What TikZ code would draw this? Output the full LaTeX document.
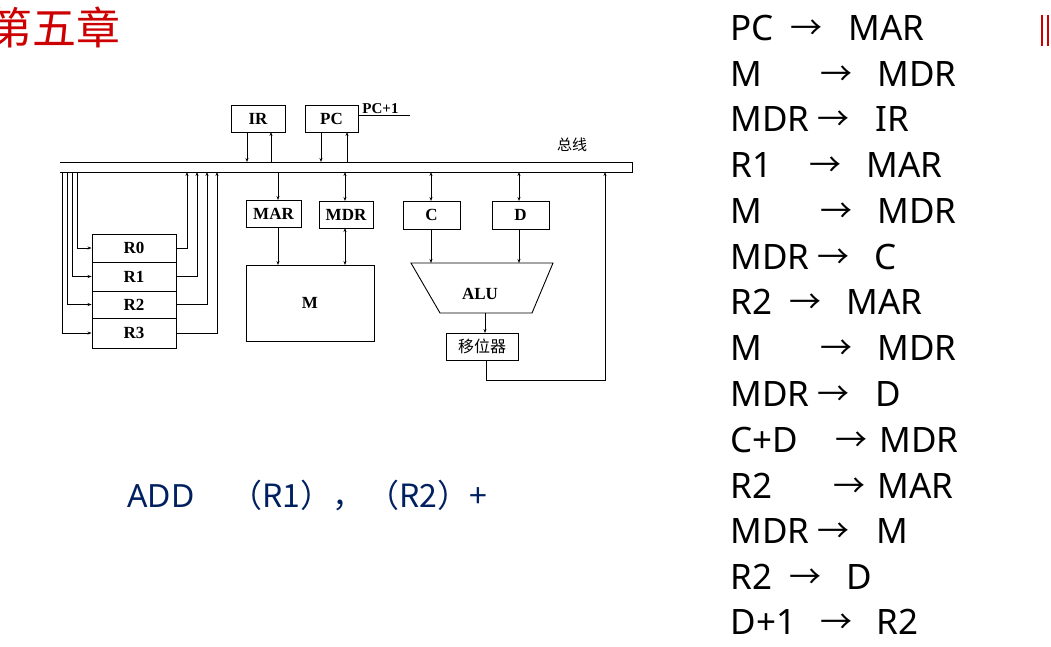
\documentclass[tikz,border=0pt]{standalone}
\usetikzlibrary{arrows.meta}
\usepackage{fontspec}
\setmainfont{Noto Sans}
\newfontfamily\cjk{Noto Sans CJK SC}
\newfontfamily\tms{Liberation Serif}
\begin{document}
\begin{tikzpicture}[x=1pt,y=-1pt,line width=0.9pt,
  box/.style={draw,inner sep=0pt,font=\tms\bfseries\fontsize{17}{17}\selectfont},
  ar/.style={-{Stealth[length=4pt,width=3pt]}},
  dar/.style={{Stealth[length=4pt,width=3pt]}-{Stealth[length=4pt,width=3pt]}},
  rt/.style={anchor=base west,inner sep=0pt,font=\fontsize{35}{35}\selectfont},
  ra/.style={anchor=base west,inner sep=0pt,font=\cjk\fontsize{32}{32}\selectfont}]
\useasboundingbox (0,0) rectangle (1051,646);
% title
\node[anchor=base west,inner sep=0pt,text={rgb,255:red,204;green,0;blue,0},font=\cjk\fontsize{44}{44}\selectfont] (title) at (-12,44) {第五章};
\fill[red!80!black] (1041,15) rectangle (1043,46);
\fill[red!80!black] (1047,15) rectangle (1049,46);
% bus
\draw (60,162) -- (632,162) -- (632,172) -- (60,172);
\node[font=\cjk\fontsize{15}{15}\selectfont,inner sep=0pt] (busl) at (572,145) {总线};
% top boxes
\node[box,minimum width=54pt,minimum height=27pt] (IR) at (258,118.5) {IR};
\node[box,minimum width=53pt,minimum height=27pt] (PC) at (331.5,118.5) {PC};
\node[anchor=south west,inner sep=0pt,font=\tms\bfseries\fontsize{15}{15}\selectfont] (pc1) at (362,114) {PC+1};
\draw (358,115) -- (410,115);
\draw[ar] (247,132) -- (247,162);
\draw[ar] (271,162) -- (271,132);
\draw[ar] (321,132) -- (321,162);
\draw[ar] (347,162) -- (347,132);
% MAR MDR C D
\node[box,minimum width=55pt,minimum height=27pt] (MAR) at (273.5,213.5) {MAR};
\node[box,minimum width=54pt,minimum height=27pt] (MDR) at (346,214.5) {MDR};
\node[box,minimum width=57pt,minimum height=28pt] (C) at (431.5,215) {C};
\node[box,minimum width=57pt,minimum height=28pt] (D) at (520.5,215) {D};
\draw[ar] (278,172) -- (278,200);
\draw[dar] (345,172) -- (345,201);
\draw[dar] (431,172) -- (431,201);
\draw[dar] (519,172) -- (519,201);
% M
\node[box,minimum width=128pt,minimum height=76pt] (M) at (310,303) {M};
\draw[ar] (278,227) -- (278,265);
\draw[dar] (345,228) -- (345,265);
% ALU
\draw (411,263) -- (553,263) -- (532,313) -- (440,313) -- cycle;
\node[font=\tms\bfseries\fontsize{17}{17}\selectfont,inner sep=0pt] (ALU) at (480,294) {ALU};
\draw[ar] (431,229) -- (431,263);
\draw[ar] (519,229) -- (519,263);
\node[draw,inner sep=0pt,minimum width=72pt,minimum height=27pt,font=\cjk\fontsize{16}{16}\selectfont] (SH) at (482,346.5) {移位器};
\draw[ar] (485,313) -- (485,333);
\draw[ar] (486,360) -- (486,380) -- (605,380) -- (605,172);
% registers
\foreach \n/\yt/\yb in {0/234/262,1/262/291,2/291/318,3/318/348}{
  \node[box,minimum width=84pt,minimum height={\yb-\yt}] (R\n) at (134,{(\yt+\yb)/2}) {R\n};
}
\foreach \n/\x in {0/77,1/72,2/67,3/62}{
  \draw[ar] (\x,172) |- (R\n.west);
}
\foreach \n/\x in {0/187,1/197,2/207,3/217}{
  \draw[ar] (R\n.east) -| (\x,172);
}
% ADD line
\begin{scope}[every node/.style={anchor=base west,inner sep=0pt,text={rgb,255:red,0;green,32;blue,96},font=\fontsize{32}{32}\selectfont}]
\node (a1) at (127,507) {ADD};
\node[font=\cjk\fontsize{32}{32}\selectfont] (a2) at (230,507) {（R1），};
\node[font=\cjk\fontsize{32}{32}\selectfont] (a3) at (367,507) {（R2）+};
\end{scope}
% right column
\foreach \i/\l/\ax/\r/\rx/\y in {
 1/PC/790/MAR/848/40, 2/M/820/MDR/877/86, 3/MDR/817/IR/875/131,
 4/R1/809/MAR/866/177, 5/M/820/MDR/877/223, 6/MDR/817/C/874/269,
 7/R2/789/MAR/846/314, 8/M/820/MDR/877/360, 9/MDR/817/D/875/406,
 10/C+D/835/MDR/879/452, 11/R2/833/MAR/877/498, 12/MDR/817/M/876/543,
 13/R2/789/D/846/589, 14/D+1/820/R2/876/634}{
 \node[rt] (l\i) at (730,\y) {\l};
 \node[ra] (ar\i) at (\ax,\y-1) {→};
 \node[rt] (r\i) at (\rx,\y) {\r};
}
\end{tikzpicture}
\end{document}
